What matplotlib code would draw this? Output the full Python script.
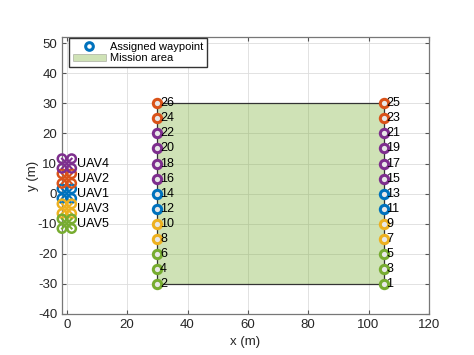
import matplotlib
matplotlib.use("Agg")
import matplotlib.pyplot as plt
from matplotlib.patches import Rectangle, Circle, Patch
from matplotlib.lines import Line2D

plt.rcParams["font.family"] = ["Liberation Sans", "DejaVu Sans"]
plt.rcParams["axes.unicode_minus"] = False

# UAV start positions
uav_names = ["UAV1", "UAV2", "UAV3", "UAV4", "UAV5"]
uav_x = [0, 0, 0, 0, 0]
uav_y = [0, 5, -5, 10, -10]
uav_colors = ["#0072BD", "#D95319", "#EDB120", "#7E2F8E", "#77AC30"]

# waypoints (id, x, y, assigned uav index)
wp_id = list(range(1, 27))
wp_x = [105, 30] * 13
wp_y = [-30, -30, -25, -25, -20, -20, -15, -15, -10, -10, -5, -5, 0, 0,
        5, 5, 10, 10, 15, 15, 20, 20, 25, 25, 30, 30]
wp_uav = [4, 4, 4, 4, 4, 4, 2, 2, 2, 2, 0, 0, 0, 0,
          3, 3, 3, 3, 3, 3, 3, 3, 1, 1, 1, 1]

# mission area rectangle
area_x = [30, 105]
area_y = [-30, 30]
area_color = "#77AC30"

fig = plt.figure(figsize=(4.74, 3.55), dpi=100)
ax = fig.add_axes([0.1308, 0.1155, 0.774, 0.780])

ax.add_patch(Rectangle((area_x[0], area_y[0]), area_x[1] - area_x[0], area_y[1] - area_y[0],
                       facecolor=area_color, alpha=0.35, edgecolor="none", zorder=1))
ax.add_patch(Rectangle((area_x[0], area_y[0]), area_x[1] - area_x[0], area_y[1] - area_y[0],
                       facecolor="none", edgecolor="#333333", lw=0.9, zorder=2))

# waypoints
for i, x, y, u in zip(wp_id, wp_x, wp_y, wp_uav):
    ax.plot(x, y, "o", color=uav_colors[u], mfc="#e8e8e8", mew=2.2, ms=6, zorder=4)
    ax.text(x + 0.9, y, str(i), fontsize=9, va="center", ha="left", zorder=5)

# UAVs drawn as small quadrotors
r, d = 1.4, 1.6
for name, x, y, c in zip(uav_names, uav_x, uav_y, uav_colors):
    for sx in (-1, 1):
        for sy in (-1, 1):
            ax.add_patch(Circle((x + sx * d, y + sy * d), r, facecolor="none",
                                edgecolor=c, lw=1.8, zorder=3, clip_on=False))
    ax.plot([x - d, x + d], [y - d, y + d], color=c, lw=1.5, zorder=3, clip_on=False)
    ax.plot([x - d, x + d], [y + d, y - d], color=c, lw=1.5, zorder=3, clip_on=False)
    ax.text(x + 3.5, y, name, fontsize=9, va="center", ha="left", zorder=5)

ax.set_xlim(-1.6, 120)
ax.set_ylim(-40, 52)
ax.set_xticks(range(0, 121, 20))
ax.set_yticks(range(-40, 51, 10))
ax.set_xlabel("x (m)", fontsize=9.5, color="#262626")
ax.set_ylabel("y (m)", fontsize=9.5, color="#262626", labelpad=-1)
ax.tick_params(labelsize=9.5, labelcolor="#262626", direction="in", length=3, color="#555555",
               top=True, right=True, labeltop=False, labelright=False)
ax.grid(True, color="#dddddd", lw=0.6)
ax.set_axisbelow(True)
for s in ax.spines.values():
    s.set_color("#777777")
    s.set_linewidth(0.9)

handles = [Line2D([], [], ls="none", marker="o", color="#0072BD", mfc="white", mew=2.2, ms=5.5),
           Patch(facecolor=area_color, alpha=0.35, edgecolor="#555555", lw=0.6)]
ax.legend(handles, ["Assigned waypoint", "Mission area"], loc="upper left",
          bbox_to_anchor=(0.02, 0.995), borderaxespad=0, fontsize=8, fancybox=False,
          edgecolor="#333333", framealpha=1, handlelength=3.0, handletextpad=0.4,
          borderpad=0.3, labelspacing=0.15)

fig.savefig("out.png", dpi=100)
